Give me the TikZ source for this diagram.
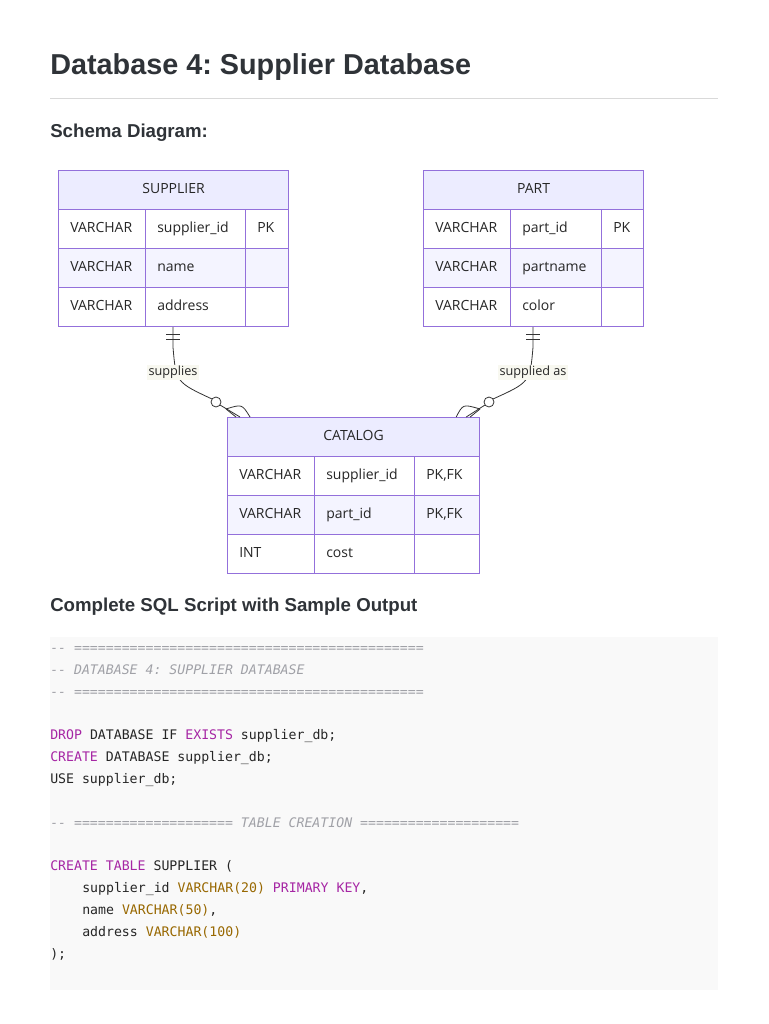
\documentclass[tikz,border=0pt]{standalone}
\usepackage{fontspec}
\setmainfont{Liberation Sans}
\newfontfamily\erfont{Open Sans}
\setmonofont{DejaVu Sans Mono}
\usetikzlibrary{calc}
\frenchspacing
\begin{document}
\begin{tikzpicture}[x=0.75pt,y=-0.75pt]
\definecolor{bord}{HTML}{9370DB}
\definecolor{hdr}{HTML}{ECECFF}
\definecolor{alt}{HTML}{F4F4FF}
\definecolor{kw}{HTML}{A626A4}
\definecolor{ty}{HTML}{986801}
\definecolor{cm}{HTML}{A0A1A7}
\definecolor{ttl}{HTML}{2F3338}
\definecolor{lblbg}{HTML}{F8F8F0}
\tikzset{
 cell/.style={draw=bord,line width=0.9pt,anchor=north west,inner sep=0pt,minimum height=29.25pt},
 et/.style={font=\erfont\fontsize{10.5pt}{12pt}\selectfont,text=black!85,inner sep=0pt,text height=7.6pt,text depth=2.4pt},
 code/.style={anchor=west,inner sep=0pt,font=\ttfamily\fontsize{9.9pt}{11pt}\selectfont,text=black!85,text height=7.5pt,text depth=2.5pt},
 rel/.style={draw=black!80,line width=0.6pt},
 lbl/.style={fill=lblbg,inner sep=1pt,font=\erfont\fontsize{9.5pt}{11pt}\selectfont,text=black!85},
 head/.style={anchor=west,inner sep=0pt,text=ttl,font=\bfseries\fontsize{14pt}{16pt}\selectfont}
}
\newcommand\ehead[3]{%
 \node[cell,fill=hdr,minimum width={(\xd-\xa)*0.75pt}] (#1) at (\xa,#2) {};
 \node[et] at (#1.center) {#3};}
\newcommand\erow[6]{%
 \node[cell,fill=#3,minimum width={(\xb-\xa)*0.75pt}] (#1a) at (\xa,#2) {};
 \node[cell,fill=#3,minimum width={(\xc-\xb)*0.75pt}] (#1b) at (\xb,#2) {};
 \node[cell,fill=#3,minimum width={(\xd-\xc)*0.75pt}] (#1c) at (\xc,#2) {};
 \node[et,anchor=west] at ($(#1a.west)+(12,0)$) {#4};
 \node[et,anchor=west] at ($(#1b.west)+(12,0)$) {#5};
 \node[et,anchor=west] at ($(#1c.west)+(12,0)$) {#6};}
\useasboundingbox (0,0) rectangle (768,1024);
\fill[white] (0,0) rectangle (768,1024);
\node[anchor=west,inner sep=0pt,text=ttl,font=\bfseries\fontsize{21.6pt}{24pt}\selectfont] (title) at (50,67) {Database 4: Supplier Database};
\draw[black!15,line width=0.75pt] (50,98) -- (718,98);
\node[head] (schema) at (50,133) {Schema Diagram:};
\node[head] (sql) at (50,607) {Complete SQL Script with Sample Output};
% SUPPLIER
\def\xa{58}\def\xb{145}\def\xc{245}\def\xd{288}
\ehead{sup}{170}{SUPPLIER}
\erow{supA}{209}{white}{VARCHAR}{supplier\_id}{PK}
\erow{supB}{248}{alt}{VARCHAR}{name}{}
\erow{supC}{287}{white}{VARCHAR}{address}{}
% PART
\def\xa{423}\def\xb{510}\def\xc{601}\def\xd{643}
\ehead{part}{170}{PART}
\erow{partA}{209}{white}{VARCHAR}{part\_id}{PK}
\erow{partB}{248}{alt}{VARCHAR}{partname}{}
\erow{partC}{287}{white}{VARCHAR}{color}{}
% CATALOG
\def\xa{227}\def\xb{314}\def\xc{414}\def\xd{479}
\ehead{cat}{417}{CATALOG}
\erow{catA}{456}{white}{VARCHAR}{supplier\_id}{PK,FK}
\erow{catB}{495}{alt}{VARCHAR}{part\_id}{PK,FK}
\erow{catC}{534}{white}{INT}{cost}{}
% relationship supplies
\coordinate (s0) at ($(supCb.south west)+(28,0)$);
\coordinate (s1) at ($(cat.north west)+(23,0)$);
\coordinate (sc) at (216,402);
\coordinate (sf) at (226,409);
\draw[rel] (s0) -- ++(0,20) .. controls ($(s0)+(3,55)$) .. ($(sc)+(-4,-3)$);
\draw[rel] ($(sc)+(4,3)$) -- ($(s1)+(-10,0)$);
\draw[rel] (sf) .. controls (242,404) .. (s1);
\draw[rel] (sf) -- ($(s1)+(-14,0)$);
\draw[rel,fill=white] (sc) circle[radius=5];
\draw[rel] ($(s0)+(-7,7)$) -- ++(14,0) ($(s0)+(-7,12)$) -- ++(14,0);
\node[lbl] (lsup) at ($(s0)+(0,45)$) {supplies};
% relationship supplied as
\coordinate (p0) at ($(partCb.south west)+(23,0)$);
\coordinate (p1) at ($(cat.north east)+(-24,0)$);
\coordinate (pc) at (489,402);
\coordinate (pf) at (480,409);
\draw[rel] (p0) -- ++(0,20) .. controls ($(p0)+(-3,55)$) .. ($(pc)+(4,-3)$);
\draw[rel] ($(pc)+(-4,3)$) -- ($(p1)+(10,0)$);
\draw[rel] (pf) .. controls (463,404) .. (p1);
\draw[rel] (pf) -- ($(p1)+(14,0)$);
\draw[rel,fill=white] (pc) circle[radius=5];
\draw[rel] ($(p0)+(-7,7)$) -- ++(14,0) ($(p0)+(-7,12)$) -- ++(14,0);
\node[lbl] (lpart) at ($(p0)+(0,45)$) {supplied as};
% code block
\fill[black!2.5] (50,637) rectangle (718,990);
\tikzset{cmt/.style={code,text=cm,font=\ttfamily\itshape\fontsize{9.9pt}{11pt}\selectfont}}
\node[cmt] (c1) at (50,649) {-{}- ============================================};
\node[cmt] (c2) at (50,671) {-{}- DATABASE 4: SUPPLIER DATABASE};
\node[cmt] (c3) at (50,693) {-{}- ============================================};
\node[code] (c4) at (50,736) {\textcolor{kw}{DROP} DATABASE IF \textcolor{kw}{EXISTS} supplier\_db;};
\node[code] (c5) at (50,758) {\textcolor{kw}{CREATE} DATABASE supplier\_db;};
\node[code] (c6) at (50,780) {USE supplier\_db;};
\node[cmt] (c7) at (50,824) {-{}- ==================== TABLE CREATION ====================};
\node[code] (c8) at (50,867) {\textcolor{kw}{CREATE TABLE} SUPPLIER (};
\node[code] (c9) at (82,889) {supplier\_id \textcolor{ty}{VARCHAR(20)} \textcolor{kw}{PRIMARY KEY},};
\node[code] (c10) at (82,911) {name \textcolor{ty}{VARCHAR(50)},};
\node[code] (c11) at (82,933) {address \textcolor{ty}{VARCHAR(100)}};
\node[code] (c12) at (50,955) {);};
\end{tikzpicture}
\end{document}
